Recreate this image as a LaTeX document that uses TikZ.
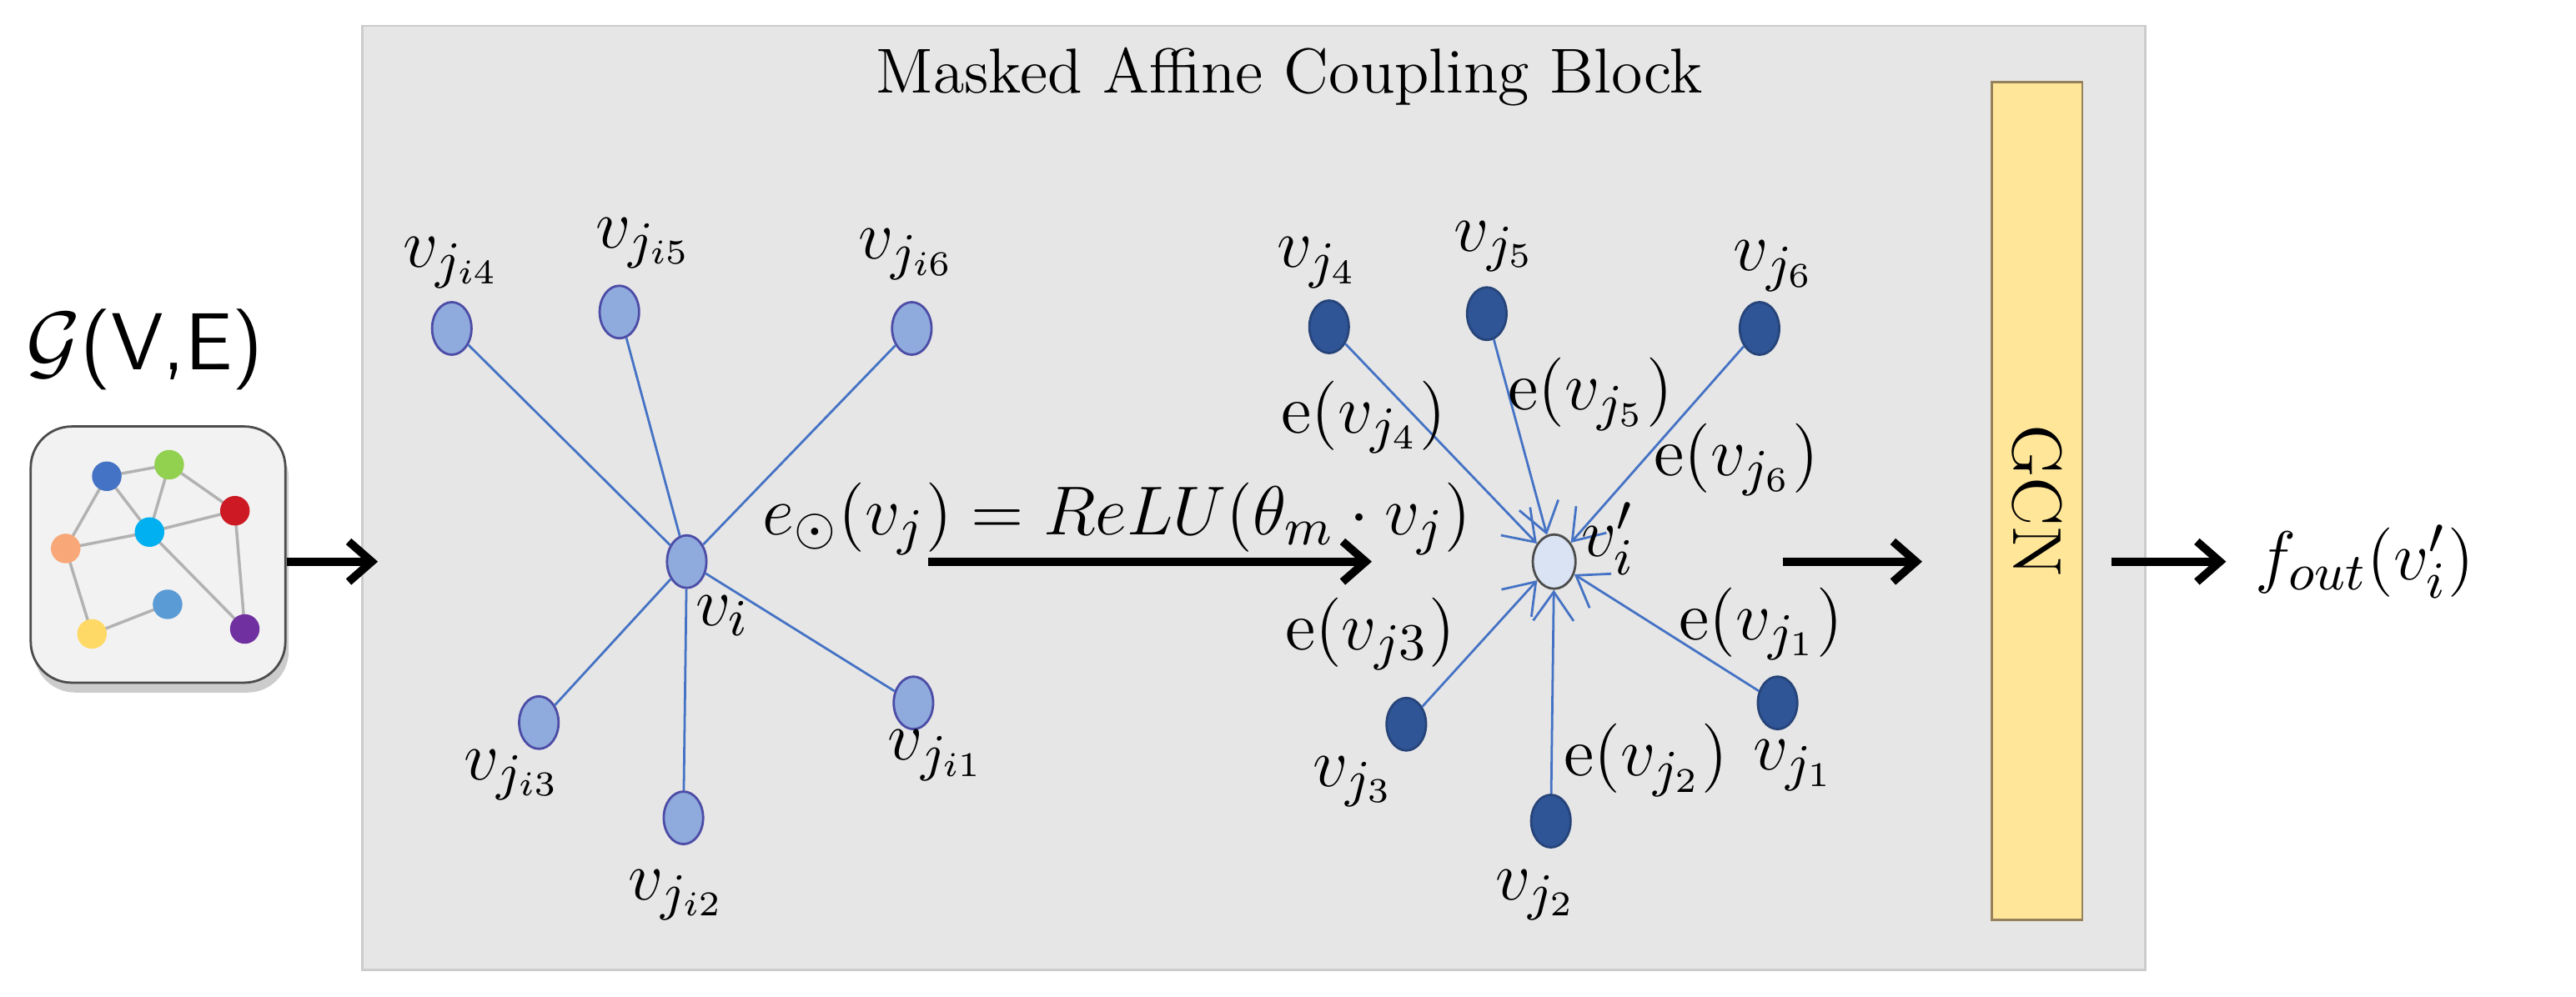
\documentclass[tikz,border=0pt]{standalone}
\usetikzlibrary{arrows.meta,shadows,shapes.geometric}
\begin{document}
\begin{tikzpicture}[
  lbl/.style={font=\fontsize{13}{15}\selectfont, inner sep=0pt},
  lnode/.style={ellipse, draw=blue!50!black!70, fill=lightblue, minimum width=0.24cm, minimum height=0.32cm, inner sep=0pt, line width=0.4pt},
  dnode/.style={ellipse, draw=darkblue!80!black, fill=darkblue, minimum width=0.24cm, minimum height=0.32cm, inner sep=0pt},
  edge/.style={draw=edgeblue, line width=0.4pt},
  inarr/.style={edge, -{Straight Barb[length=5pt,width=7pt]}},
  bigarr/.style={line width=1.4pt, -{Straight Barb[length=4pt,width=7pt]}},
  gn/.style={circle, minimum size=0.18cm, inner sep=0pt},
  ge/.style={draw=gray!60, line width=0.5pt}
]
\definecolor{lightblue}{HTML}{8FAADC}
\definecolor{darkblue}{HTML}{2F5597}
\definecolor{edgeblue}{HTML}{4472C4}
\definecolor{boxgray}{HTML}{E6E6E6}
\definecolor{gcnfill}{HTML}{FFE699}
\useasboundingbox (0,0) rectangle (15.68,-6.07);
\node[draw=gray!40, fill=boxgray, minimum width=10.85cm, minimum height=5.75cm, anchor=north west, inner sep=0pt] (block) at (2.20,-0.15) {};
\node[font=\fontsize{11}{13}\selectfont] (title) at (7.85,-0.47) {Masked Affine Coupling Block};

% input graph
\node[font=\fontsize{14}{16}\selectfont] (G) at (0.88,-2.13) {$\mathcal{G}$\textsf{(V,E)}};
\node[draw=black!70, fill=gray!10, rounded corners=0.25cm, minimum width=1.55cm, minimum height=1.56cm, anchor=north west, drop shadow={shadow xshift=0.02cm, shadow yshift=-0.06cm, opacity=0.4}] (icon) at (0.18,-2.59) {};
\coordinate (c1) at (0.65,-2.90);
\coordinate (c2) at (1.03,-2.83);
\coordinate (c3) at (1.43,-3.11);
\coordinate (c4) at (0.91,-3.24);
\coordinate (c5) at (0.40,-3.34);
\coordinate (c6) at (1.02,-3.68);
\coordinate (c7) at (0.56,-3.86);
\coordinate (c8) at (1.49,-3.83);
\draw[ge] (c1)--(c2) (c1)--(c5) (c1)--(c4) (c2)--(c4) (c2)--(c3) (c3)--(c4) (c3)--(c8) (c4)--(c5) (c4)--(c8) (c5)--(c7) (c7)--(c6);
\node[gn, fill={rgb,255:red,68;green,114;blue,196}] (g1) at (c1) {};
\node[gn, fill={rgb,255:red,146;green,208;blue,80}] (g2) at (c2) {};
\node[gn, fill={rgb,255:red,204;green,25;blue,35}] (g3) at (c3) {};
\node[gn, fill={rgb,255:red,0;green,176;blue,240}] (g4) at (c4) {};
\node[gn, fill={rgb,255:red,248;green,168;blue,120}] (g5) at (c5) {};
\node[gn, fill={rgb,255:red,91;green,155;blue,213}] (g6) at (c6) {};
\node[gn, fill={rgb,255:red,255;green,217;blue,102}] (g7) at (c7) {};
\node[gn, fill={rgb,255:red,112;green,48;blue,160}] (g8) at (c8) {};
\coordinate (inend) at (2.30,-3.42);
\draw[bigarr] (icon.east |- inend) -- (inend);

% left star
\node[lnode] (vi) at (4.18,-3.42) {};
\node[lnode] (a4) at (2.75,-2.00) {};
\node[lnode] (a5) at (3.77,-1.90) {};
\node[lnode] (a6) at (5.55,-2.00) {};
\node[lnode] (a3) at (3.28,-4.40) {};
\node[lnode] (a2) at (4.16,-4.98) {};
\node[lnode] (a1) at (5.56,-4.28) {};
\foreach \n in {a1,a2,a3,a4,a5,a6} \draw[edge] (vi) -- (\n);
\node[lbl] (la4) at (2.75,-1.60) {$v_{j_{i4}}$};
\node[lbl] (la5) at (3.92,-1.48) {$v_{j_{i5}}$};
\node[lbl] (la6) at (5.52,-1.55) {$v_{j_{i6}}$};
\node[lbl] (lvi) at (4.40,-3.75) {$v_i$};
\node[lbl] (la3) at (3.12,-4.72) {$v_{j_{i3}}$};
\node[lbl] (la2) at (4.12,-5.45) {$v_{j_{i2}}$};
\node[lbl] (la1) at (5.70,-4.60) {$v_{j_{i1}}$};

% middle
\node[lbl] (formula) at (6.80,-3.16) {$e_{\odot}(v_j)=ReLU(\theta_m\cdot v_j)$};
\coordinate (m1) at (5.65,-3.42);
\coordinate (m2) at (8.35,-3.42);
\draw[bigarr] (m1) -- (m2);

% right star
\node[ellipse, draw=black!70, fill={rgb,255:red,218;green,227;blue,243}, minimum width=0.26cm, minimum height=0.33cm, inner sep=0pt] (vp) at (9.46,-3.42) {};
\node[dnode] (b4) at (8.09,-1.99) {};
\node[dnode] (b5) at (9.05,-1.91) {};
\node[dnode] (b6) at (10.71,-2.00) {};
\node[dnode] (b3) at (8.56,-4.41) {};
\node[dnode] (b2) at (9.44,-5.00) {};
\node[dnode] (b1) at (10.82,-4.28) {};
\foreach \n in {b1,b2,b3,b4,b5,b6} \draw[inarr] (\n) -- (vp);
\node[lbl] (lb4) at (8.02,-1.60) {$v_{j_4}$};
\node[lbl] (lb5) at (9.10,-1.50) {$v_{j_5}$};
\node[lbl] (lb6) at (10.80,-1.62) {$v_{j_6}$};
\node[lbl] (lb3) at (8.24,-4.76) {$v_{j_3}$};
\node[lbl] (lb2) at (9.35,-5.45) {$v_{j_2}$};
\node[lbl] (lb1) at (10.92,-4.66) {$v_{j_1}$};
\node[lbl, anchor=west] (lvp) at (9.62,-3.28) {$v_i'$};
\node[lbl] (e4) at (8.30,-2.54) {$\mathrm{e}(v_{j_4})$};
\node[lbl] (e5) at (9.68,-2.40) {$\mathrm{e}(v_{j_5})$};
\node[lbl] (e6) at (10.57,-2.80) {$\mathrm{e}(v_{j_6})$};
\node[lbl] (e3) at (8.34,-3.86) {$\mathrm{e}(v_{j3})$};
\node[lbl] (e1) at (10.72,-3.80) {$\mathrm{e}(v_{j_1})$};
\node[lbl] (e2) at (10.02,-4.63) {$\mathrm{e}(v_{j_2})$};

% GCN
\node[draw={rgb,255:red,150;green,130;blue,90}, fill=gcnfill, minimum width=0.55cm, minimum height=5.10cm, inner sep=0pt] (gcn) at (12.40,-3.05) {};
\node[rotate=-90, font=\fontsize{12}{14}\selectfont] (gcnt) at (gcn.center) {GCN};
\coordinate (r1) at (10.85,-3.42);
\coordinate (r2) at (11.70,-3.42);
\draw[bigarr] (r1) -- (r2);
\coordinate (o1) at (12.85,-3.42);
\coordinate (o2) at (13.55,-3.42);
\draw[bigarr] (o1) -- (o2);
\node[lbl, anchor=west] (out) at (13.72,-3.42) {$f_{out}(v_i')$};
\end{tikzpicture}
\end{document}
